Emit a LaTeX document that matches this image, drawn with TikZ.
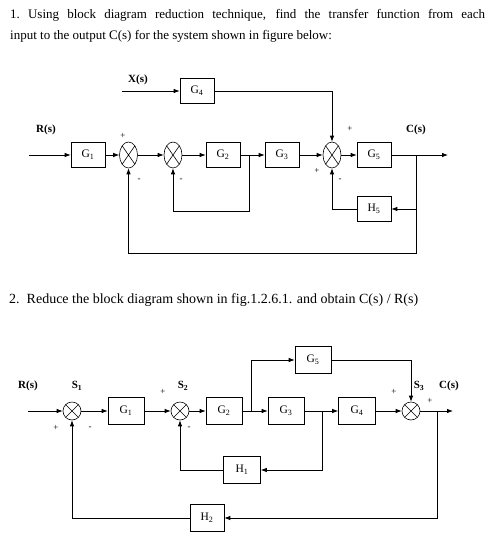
\documentclass[tikz,border=0pt]{standalone}
\usepackage{fontspec}
\setmainfont{Liberation Serif}
\usetikzlibrary{arrows.meta, positioning, shapes.geometric}

\begin{document}
\begin{tikzpicture}[x=1pt, y=-1pt,
    blk/.style={draw, line width=0.6pt, minimum width=34pt, minimum height=25pt, inner sep=0pt, font=\fontsize{11.5}{12}\selectfont},
    xsum/.style={draw, line width=0.6pt, ellipse, minimum width=18pt, minimum height=26pt, inner sep=0pt,
        path picture={\draw (path picture bounding box.north west) -- (path picture bounding box.south east)
                            (path picture bounding box.south west) -- (path picture bounding box.north east);}},
    csum/.style={xsum, circle, minimum size=18pt},
    sig/.style={-{Latex[length=6pt,width=4.5pt]}, line width=0.75pt},
    sgn/.style={font=\fontsize{9}{10}\selectfont},
    lbl/.style={font=\bfseries\fontsize{11}{12}\selectfont}]
    \useasboundingbox (0,0) rectangle (490,539);

    % Question 1
    \node[anchor=base west, inner sep=0pt, font=\fontsize{13}{15}\selectfont] (q1a) at (10,18)
        {\makebox[475pt][s]{1.\ Using block diagram reduction technique, find the transfer function from each}};
    \node[anchor=base west, inner sep=0pt, font=\fontsize{13}{15}\selectfont] (q1b) at (10,39)
        {input to the output C(s) for the system shown in figure below:};

    % Blocks (figure 1)
    \node[blk] (g1) at (88,155) {G\textsubscript{1}};
    \node[blk] (g2) at (223,155) {G\textsubscript{2}};
    \node[blk] (g3) at (282,155) {G\textsubscript{3}};
    \node[blk] (g4) at (197,91) {G\textsubscript{4}};
    \node[blk] (g5) at (374,155) {G\textsubscript{5}};
    \node[blk] (h5) at (374,209) {H\textsubscript{5}};

    % Summing points (figure 1)
    \node[xsum] (s1) at (128.5,155) {};
    \node[xsum] (s2) at (173,155) {};
    \node[xsum] (s3) at (332,155) {};

    % Branch points (figure 1)
    \coordinate (rin) at (29,155);
    \coordinate (xin) at (122,91);
    \coordinate (cout) at (448,155);
    \coordinate (b1) at (249,155);
    \coordinate (b1low) at (249,211);
    \coordinate (b2) at (416,155);
    \coordinate (b2low) at (416,253);

    % Forward path (figure 1)
    \draw[sig] (rin) -- (g1);
    \draw[sig] (g1) -- (s1);
    \draw[sig] (s1) -- (s2);
    \draw[sig] (s2) -- (g2);
    \draw[sig] (g2) -- (g3);
    \draw[sig] (g3) -- (s3);
    \draw[sig] (s3) -- (g5);
    \draw[sig] (g5) -- (cout);
    \draw[sig] (xin) -- (g4);
    \draw[sig] (g4) -| (s3);

    % Feedback paths (figure 1)
    \draw[sig] (b1) -- (b1low) -| (s2);
    \draw[sig] (b2) |- (h5);
    \draw[sig] (h5) -| (s3);
    \draw[sig] (b2) -- (b2low) -| (s1);

    % Labels (figure 1)
    \node[lbl] (lr1) at (46,130) {R(s)};
    \node[lbl] (lx1) at (138,80) {X(s)};
    \node[lbl] (lc1) at (416,130) {C(s)};
    \node[sgn] at (123,136) {+};
    \node[sgn] at (139,180) {-};
    \node[sgn] at (181,180) {-};
    \node[sgn] at (350,129) {+};
    \node[sgn] at (317,171) {+};
    \node[sgn] at (340,180) {-};

    % Question 2
    \node[anchor=base west, inner sep=0pt, font=\fontsize{14}{16}\selectfont] (q2) at (9,303)
        {2.\ \ Reduce the block diagram shown in fig.1.2.6.1. and obtain C(s) / R(s)};

    % Blocks (figure 2)
    \node[blk, minimum width=36pt, minimum height=27pt] (f1) at (126,411) {G\textsubscript{1}};
    \node[blk, minimum width=36pt, minimum height=27pt] (f2) at (224,411) {G\textsubscript{2}};
    \node[blk, minimum width=36pt, minimum height=27pt] (f3) at (286,411) {G\textsubscript{3}};
    \node[blk, minimum width=37pt, minimum height=27pt] (f4) at (357,411) {G\textsubscript{4}};
    \node[blk, minimum width=36pt, minimum height=27pt] (f5) at (313,360) {G\textsubscript{5}};
    \node[blk, minimum width=37pt, minimum height=27pt] (k1) at (242,470) {H\textsubscript{1}};
    \node[blk, minimum width=34pt, minimum height=27pt] (k2) at (207,518) {H\textsubscript{2}};

    % Summing points (figure 2)
    \node[csum] (t1) at (72,411) {};
    \node[csum] (t2) at (180,411) {};
    \node[csum] (t3) at (411,411) {};

    % Branch points (figure 2)
    \coordinate (rin2) at (28,411);
    \coordinate (cout2) at (453,411);
    \coordinate (c1) at (251,411);
    \coordinate (c2) at (322,411);
    \coordinate (c3) at (437,411);

    % Forward path (figure 2)
    \draw[sig] (rin2) -- (t1);
    \draw[sig] (t1) -- (f1);
    \draw[sig] (f1) -- (t2);
    \draw[sig] (t2) -- (f2);
    \draw[sig] (f2) -- (f3);
    \draw[sig] (f3) -- (f4);
    \draw[sig] (f4) -- (t3);
    \draw[sig] (t3) -- (cout2);
    \draw[sig] (c1) |- (f5);
    \draw[sig] (f5) -| (t3);

    % Feedback paths (figure 2)
    \draw[sig] (c2) |- (k1);
    \draw[sig] (k1) -| (t2);
    \draw[sig] (c3) |- (k2);
    \draw[sig] (k2) -| (t1);

    % Labels (figure 2)
    \node[lbl] (lr2) at (28,386) {R(s)};
    \node[lbl] (ls1) at (77,386) {S\textsubscript{1}};
    \node[lbl] (ls2) at (183,386) {S\textsubscript{2}};
    \node[lbl] (ls3) at (419,386) {S\textsubscript{3}};
    \node[lbl] (lc2) at (449,386) {C(s)};
    \node[sgn] at (56,428) {+};
    \node[sgn] at (90,428) {-};
    \node[sgn] at (163,392) {+};
    \node[sgn] at (189,428) {-};
    \node[sgn] at (394,392) {+};
    \node[sgn] at (430,401) {+};
\end{tikzpicture}
\end{document}
